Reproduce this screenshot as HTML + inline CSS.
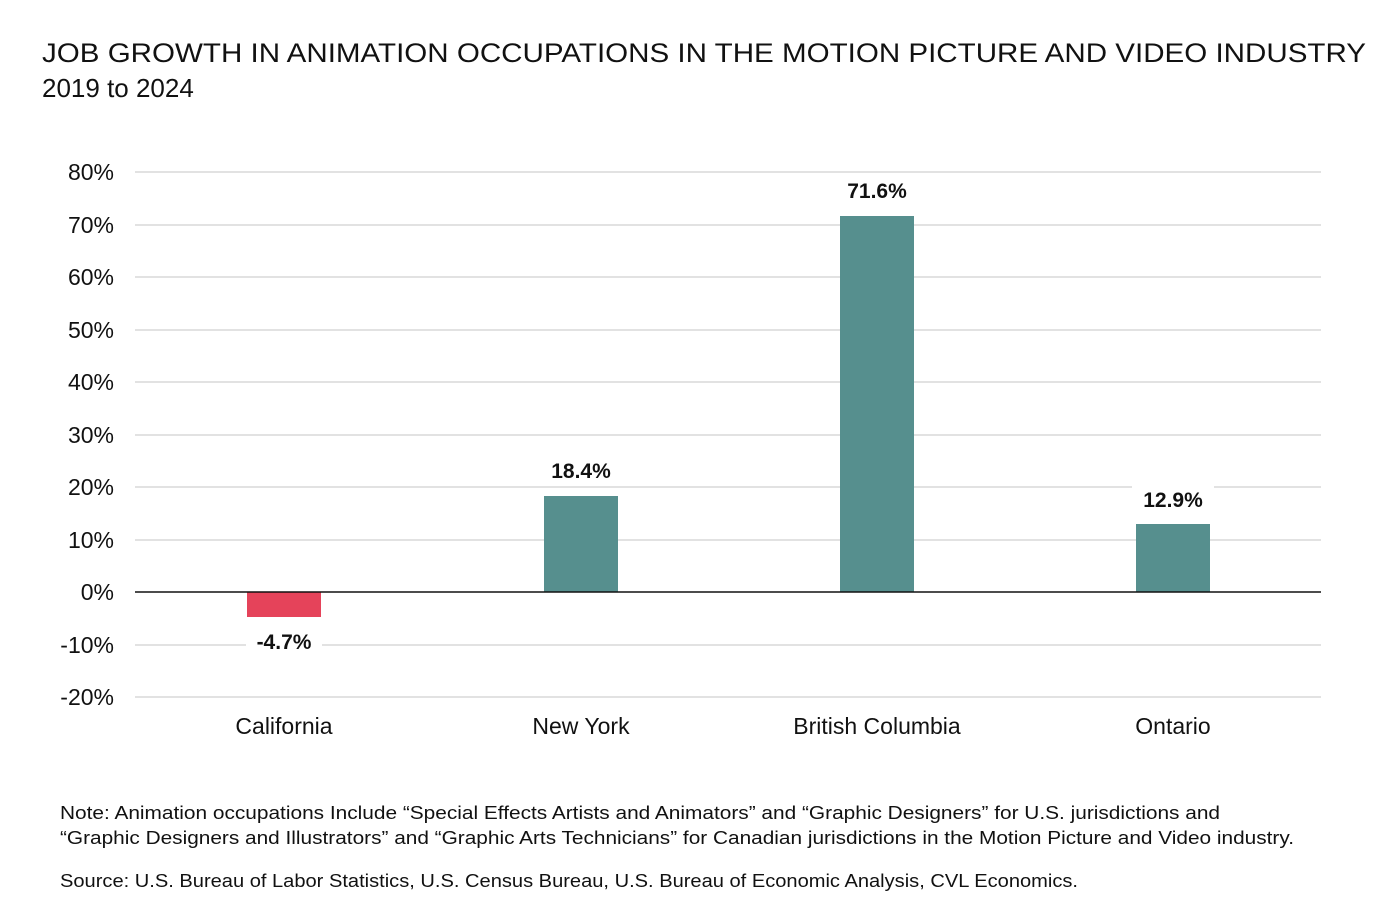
<!DOCTYPE html>
<html><head><meta charset="utf-8"><style>
html,body{margin:0;padding:0;background:#fff}
svg{display:block;font-family:"Liberation Sans",Arial,sans-serif}
</style></head><body>
<svg width="1400" height="921" viewBox="0 0 1400 921">
<text x="42" y="62" font-size="27" fill="#111" textLength="1324" lengthAdjust="spacingAndGlyphs">JOB GROWTH IN ANIMATION OCCUPATIONS IN THE MOTION PICTURE AND VIDEO INDUSTRY</text>
<text x="42" y="97" font-size="26" fill="#111">2019 to 2024</text>
<g stroke="#d9d9d9" stroke-width="1.5">
<line x1="135" x2="1321" y1="172" y2="172"/><line x1="135" x2="1321" y1="225" y2="225"/>
<line x1="135" x2="1321" y1="277" y2="277"/><line x1="135" x2="1321" y1="330" y2="330"/>
<line x1="135" x2="1321" y1="382" y2="382"/><line x1="135" x2="1321" y1="435" y2="435"/>
<line x1="135" x2="1321" y1="487" y2="487"/><line x1="135" x2="1321" y1="540" y2="540"/>
<line x1="135" x2="1321" y1="645" y2="645"/><line x1="135" x2="1321" y1="697" y2="697"/>
</g>
<g font-size="23" fill="#111" text-anchor="end">
<text x="114" y="180">80%</text><text x="114" y="233">70%</text><text x="114" y="285">60%</text>
<text x="114" y="338">50%</text><text x="114" y="390">40%</text><text x="114" y="443">30%</text>
<text x="114" y="495">20%</text><text x="114" y="548">10%</text><text x="114" y="600">0%</text>
<text x="114" y="653">-10%</text><text x="114" y="705">-20%</text>
</g>
<rect x="247" y="592" width="74" height="25" fill="#e5435a"/>
<rect x="544" y="496" width="74" height="96" fill="#568f8e"/>
<rect x="840" y="216" width="74" height="376" fill="#568f8e"/>
<rect x="1136" y="524" width="74" height="68" fill="#568f8e"/>
<line x1="135" x2="1321" y1="592" y2="592" stroke="#111" stroke-width="1.5"/>
<rect x="246" y="628" width="76" height="28" fill="#fff"/>
<rect x="540" y="458" width="82" height="28" fill="#fff"/>
<rect x="1132" y="486" width="82" height="28" fill="#fff"/>
<g font-size="21" font-weight="bold" fill="#111" text-anchor="middle">
<text x="284" y="649">-4.7%</text><text x="581" y="478">18.4%</text>
<text x="877" y="198">71.6%</text><text x="1173" y="507">12.9%</text>
</g>
<g font-size="23" fill="#111" text-anchor="middle">
<text x="284" y="734">California</text><text x="581" y="734">New York</text>
<text x="877" y="734">British Columbia</text><text x="1173" y="734">Ontario</text>
</g>
<g font-size="18.5" fill="#111">
<text x="60" y="819" textLength="1160" lengthAdjust="spacingAndGlyphs">Note: Animation occupations Include “Special Effects Artists and Animators” and “Graphic Designers” for U.S. jurisdictions and</text>
<text x="60" y="844" textLength="1234" lengthAdjust="spacingAndGlyphs">“Graphic Designers and Illustrators” and “Graphic Arts Technicians” for Canadian jurisdictions in the Motion Picture and Video industry.</text>
<text x="60" y="887" textLength="1018" lengthAdjust="spacingAndGlyphs">Source: U.S. Bureau of Labor Statistics, U.S. Census Bureau, U.S. Bureau of Economic Analysis, CVL Economics.</text>
</g>
</svg>
</body></html>
